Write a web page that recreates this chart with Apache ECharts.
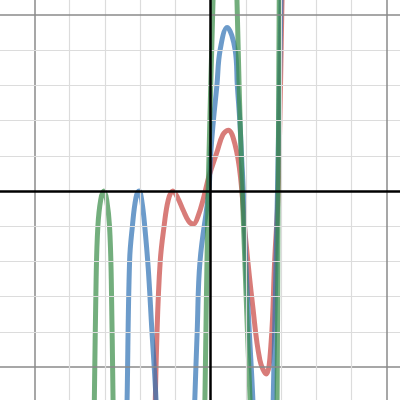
<!DOCTYPE html><html><head><meta charset="utf-8">
<script src="https://cdn.jsdelivr.net/npm/echarts@6/dist/echarts.min.js"></script>
<style>html,body{margin:0;padding:0;background:#fff}#c{width:400px;height:400px}</style></head><body><div id="c"></div><script>
const redX=[-1.6,-1.52,-1.43,-1.32,-1.2,-1.07,-0.93,-0.78,-0.62,-0.49,-0.35,-0.2,-0.05,0.18,0.35,0.5,0.7,0.85,1.0,1.2,1.4,1.58,1.72,1.82,1.92,2.03,2.06];
const redY=[-7.5,-4,-2,-1,-0.25,0,-0.2,-0.54,-0.86,-0.94,-0.7,-0.2,0.4,1.1,1.6,1.73,1.3,0.4,-1.4,-3.3,-4.8,-5.2,-4.3,-2,0,5.43,7];
const blueX=[-2.4,-2.37,-2.3,-2.22,-2.12,-2.03,-1.95,-1.87,-1.77,-1.67,-1.55,-1.52,null,-0.48,-0.45,-0.38,-0.3,-0.05,0,0.08,0.18,0.27,0.47,0.7,0.76,0.83,0.88,0.93,1.0,1.1,1.2,1.23,null,1.75,1.78,1.9,2.0,2.02];
const blueY=[-7.5,-5.9,-2,-1,-0.2,0,-0.3,-1,-2.2,-3.9,-5.9,-7,null,-7,-6,-4,-2,0,1,2,3,4,4.65,4,3,2,1,0,-2,-4,-5.9,-7,null,-7,-5.9,0,5.43,7];
const greenX=[-3.33,-3.3,-3.25,-3.2,-3.12,-3.03,-2.95,-2.87,-2.82,-2.77,-2.74,null,-0.2,-0.16,-0.07,0.07,0.09,null,0.73,0.75,0.9,1.12,1.14,null,1.87,1.89,1.92,1.95,1.96];
const greenY=[-7.5,-5.9,-2.5,-1,-0.25,0,-0.25,-1,-2.5,-5.9,-7.5,null,-7,-5.9,0,5.43,7,null,7,5.43,0,-5.9,-7,null,-7,-5.9,0,5.43,7];
const gridTicks=[-5,-4,-3,-2,-1,1,2,3,4,5];
function pts(xs,ys){return xs.map((x,i)=>x===null?[null,null]:[x,ys[i]]);}
const lines=[];
gridTicks.forEach(t=>{const st={color:Math.abs(t)===5?'#8a8a8a':'#dcdcdc',width:Math.abs(t)===5?1.5:1.2,type:'solid'};
 lines.push({xAxis:t,lineStyle:st});lines.push({yAxis:t,lineStyle:st});});
lines.push({xAxis:0,lineStyle:{color:'#000',width:2.5,type:'solid'}});
lines.push({yAxis:0,lineStyle:{color:'#000',width:2.5,type:'solid'}});
const mk=(name,xs,ys,color)=>({type:'line',name,data:pts(xs,ys),smooth:0.4,showSymbol:false,connectNulls:false,clip:true,
 lineStyle:{color,width:5,opacity:0.7},z:3});
const chart=echarts.init(document.getElementById('c'));
chart.setOption({animation:false,grid:{left:0,right:0,top:0,bottom:0},
 xAxis:{type:'value',min:-5.98,max:5.38,show:false},
 yAxis:{type:'value',min:-5.94,max:5.43,show:false},
 series:[{type:'line',data:[],markLine:{silent:true,symbol:'none',label:{show:false},data:lines},z:1},
 mk('red',redX,redY,'#c74440'),mk('blue',blueX,blueY,'#2d70b3'),mk('green',greenX,greenY,'#388c46')]});
</script></body></html>
